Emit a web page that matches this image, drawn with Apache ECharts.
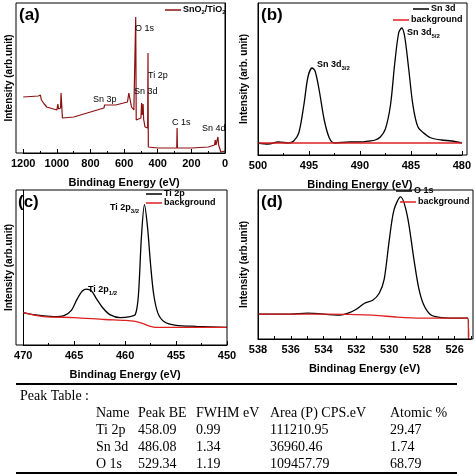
<!DOCTYPE html><html><head><script src="https://cdn.jsdelivr.net/npm/echarts@6/dist/echarts.min.js"></script>
<style>body{margin:0;background:#fff}#c{width:474px;height:474px}</style></head><body><div id="c"></div><script>
// Panel (a) survey spectrum [BE eV, intensity]
const surveyA=[[1200,56],[1110,57],[1102,59],[1098,58],[1092,53],[1075,49],[1070,47],[1060,46],[1000,43],[994,49],[990,44],[978,45],[975,60],[972,58],[967,35],[960,33],[900,36],[800,41],[760,43],[756,45],[720,45],[716,48],[712,46],[650,48],[580,51],[572,60],[565,58],[556,46],[542,43],[535,42],[531,136],[528,33],[522,33],[500,35],[496,50],[493,38],[490,36],[487,49],[484,34],[476,26],[470,24],[460,25],[458,100],[456,6],[400,5],[300,5],[287,5],[285,25],[283,5],[200,5],[100,6],[62,8],[58,13],[54,8],[46,9],[42,16],[38,8],[30,4],[25,1],[0,2]];
// Panel (b) Sn 3d
const sn3d=[[500,12],[499,11],[498,13],[497,12],[496.5,14],[496,22],[495.5,50],[495.1,78],[494.7,87],[494.4,84],[494,65],[493.5,35],[493,17],[492.5,12],[491,13],[490,13],[489,14],[488.5,15],[488,18],[487.5,26],[487,50],[486.6,90],[486.2,122],[485.9,127],[485.6,118],[485.2,85],[484.8,50],[484.3,28],[483.5,20],[483,17],[482,15],[481,14],[480,12]];
const snBg=[[500,12],[480,12]];
// Panel (c) Ti 2p
const ti2p=[[470,33],[469,31],[467,29],[466,30],[465.3,35],[464.7,47],[464.2,55],[463.8,57],[463.3,55],[462.8,47],[462.2,38],[461.5,31],[460.5,28],[459.5,29],[459,31],[458.7,50],[458.4,110],[458.1,143],[457.8,120],[457.5,82],[457.2,52],[456.8,33],[456.2,24],[455,20],[453,19],[450,18]];
const tiBg=[[470,33],[468,29],[465,28],[462,26],[460,25],[459,24],[458.3,22],[457.5,19],[457,18],[450,18]];
// Panel (d) O 1s
const o1s=[[538,25],[536,25],[535,26],[533,24],[532.5,26],[532,30],[531.5,36],[531,39],[530.6,46],[530.3,60],[530,98],[529.7,130],[529.3,143],[528.9,125],[528.5,82],[528.2,52],[527.9,35],[527.5,25],[527,22],[526,21],[525.2,21],[525.15,2]];
const oBg=[[538,25],[534,25],[531,24],[529.5,22],[528,21],[525.2,21],[525.15,0]];
const tableHead=["Name","Peak BE","FWHM eV","Area (P) CPS.eV","Atomic %"];
const tableRows=[["Ti 2p","458.09","0.99","111210.95","29.47"],["Sn 3d","486.08","1.34","36960.46","1.74"],["O 1s","529.34","1.19","109457.79","68.79"]];

const F='Arial, Liberation Sans, sans-serif';
const grids=[{left:16,right:249,top:3,bottom:321},{left:258,right:7,top:3,bottom:319},{left:16,right:247,top:190,bottom:129},{left:258,right:1,top:190,bottom:135}];
const xs=[[1200,0,200,'Bindinag Energy (eV)'],[500,480,5,'Binding Energy (eV)'],[470,450,5,'Bindinag Energy (eV)'],[538,525,1,'Bindinag Energy (eV)']];
const ymax=[150,152,158,150];
const ynames=['Intensity (arb.unit)','Intensity (arb. unit)','Intensity (arb.unit)','Intensity (arb.unit)'];
const xAxis=xs.map((x,i)=>({type:'value',gridIndex:i,inverse:true,min:x[1],max:x[0],interval:x[2],name:x[3],nameLocation:'middle',nameGap:12,
 nameTextStyle:{fontFamily:F,fontWeight:'bold',fontSize:11,color:'#000'},
 axisLine:{onZero:false,lineStyle:{color:'#000',width:1}},axisTick:{inside:true,length:i===3?3:4,lineStyle:{color:'#000'}},minorTick:{show:i!==3,splitNumber:2,length:2,lineStyle:{color:'#000'}},
 axisLabel:{fontFamily:F,fontWeight:'bold',fontSize:11,color:'#000',margin:1,showMinLabel:true,showMaxLabel:true,hideOverlap:false,interval:0,formatter:v=>(i===3&&v%2)?'':String(v)},splitLine:{show:false}}));
const yAxis=ymax.map((m,i)=>({type:'value',gridIndex:i,min:0,max:m,name:ynames[i],nameLocation:'middle',nameGap:5,nameRotate:90,
 nameTextStyle:{fontFamily:F,fontWeight:'bold',fontSize:10,color:'#000'},axisLine:{show:true,lineStyle:{color:'#000'}},axisTick:{show:false},axisLabel:{show:false},splitLine:{show:false}}));
const ln=(d,i,c,w)=>({type:'line',xAxisIndex:i,yAxisIndex:i,data:d,showSymbol:false,smooth:0.3,lineStyle:{color:c,width:w},z:c==='#e02020'?3:2});
const series=[ln(surveyA,0,'#8b1010',1.2),ln(sn3d,1,'#000',1.3),ln(snBg,1,'#e02020',1.3),ln(ti2p,2,'#000',1.3),ln(tiBg,2,'#e02020',1.3),ln(o1s,3,'#000',1.3),ln(oBg,3,'#e02020',1.3)];
series[0].smooth=false;
const boxes=[[16,3,209,150],[258,3,209,152],[16,190,211,155],[258,190,215,149]];
const box=boxes.map(b=>({type:'rect',shape:{x:b[0],y:b[1],width:b[2],height:b[3]},style:{fill:'none',stroke:'#000',lineWidth:1},z:10}));
const T=(x,y,t,s,b)=>({type:'text',x,y,style:{text:t,font:(b?'bold ':'')+s+'px '+F,fill:'#000',textVerticalAlign:'middle'},z:20});
const rt=(x,y,main,sub)=>({type:'text',x,y,z:20,style:{text:'{m|'+main+'}{s|'+sub+'}',textVerticalAlign:'middle',rich:{m:{font:'bold 9px '+F,fill:'#000'},s:{font:'bold 6px '+F,fill:'#000',padding:[6,0,0,0]}}}});
const leg=(x,y,c,t)=>[{type:'line',shape:{x1:x,y1:y,x2:x+16,y2:y},style:{stroke:c,lineWidth:1.5},z:20},T(x+18,y,t,9,true)];
const graphic=[...box,
 T(19,15,'(a)',17,true),T(261,15,'(b)',17,true),T(18,202,'(c)',17,true),T(261,202,'(d)',17,true),
 {type:'line',shape:{x1:165,y1:10,x2:181,y2:10},style:{stroke:'#8b1010',lineWidth:1.5},z:20},
 {type:'text',x:183,y:10,z:20,style:{text:'{m|SnO}{s|2}{m|/TiO}{s|2}',textVerticalAlign:'middle',rich:{m:{font:'bold 9px '+F,fill:'#000'},s:{font:'bold 6px '+F,fill:'#000',padding:[5,0,0,0]}}}},
 ...leg(413,9,'#000','Sn 3d'),...leg(393,20,'#e02020','background'),
 ...leg(146,194,'#000','Ti 2p'),...leg(146,203,'#e02020','background'),
 ...leg(396,191,'#000','O 1s'),...leg(400,202,'#e02020','background'),
 T(135,29,'O 1s',9,false),T(148,76,'Ti 2p',9,false),T(134,92,'Sn 3d',9,false),T(93,100,'Sn 3p',9,false),T(172,123,'C 1s',9,false),T(202,129,'Sn 4d',9,false),
 rt(317,65,'Sn 3d','3/2'),rt(407,33,'Sn 3d','5/2'),rt(110,208,'Ti 2p','3/2'),rt(88,290,'Ti 2p','1/2'),
 {type:'line',shape:{x1:16,y1:384,x2:457,y2:384},style:{stroke:'#000',lineWidth:2},z:20},
 {type:'line',shape:{x1:16,y1:473,x2:457,y2:473},style:{stroke:'#000',lineWidth:2},z:20}
];
const SF='Liberation Serif, DejaVu Serif, serif';
const cx=[96,138,196,270,390];
const ST=(x,y,t)=>({type:'text',x,y,z:20,style:{text:t,font:'14px '+SF,fill:'#000',textVerticalAlign:'middle'}});
graphic.push(ST(20,396,'Peak Table :'));
tableHead.forEach((h,j)=>graphic.push(ST(cx[j],413,h)));
tableRows.forEach((r,i)=>r.forEach((v,j)=>graphic.push(ST(cx[j],430+i*17,v))));
const ch=echarts.init(document.getElementById('c'));
ch.setOption({animation:false,grid:grids,xAxis,yAxis,series,graphic});
</script></body></html>
